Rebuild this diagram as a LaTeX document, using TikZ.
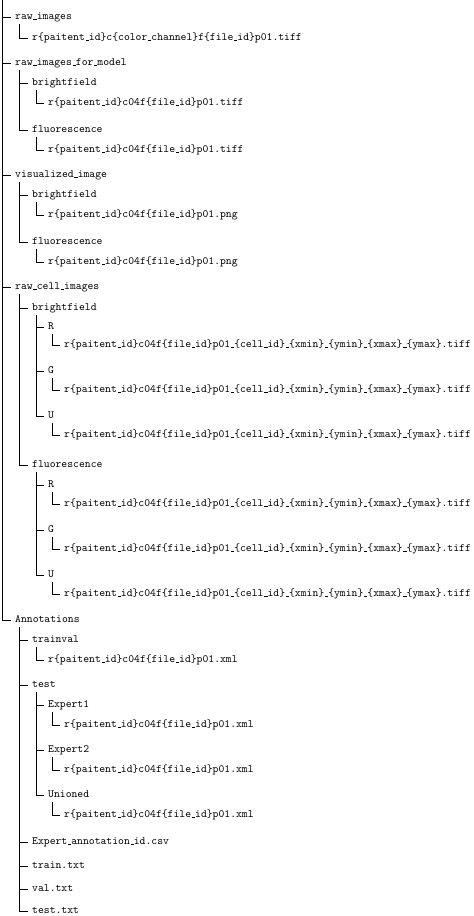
\documentclass[tikz,border=0pt]{standalone}
\usepackage{tikz}
\usetikzlibrary{positioning}
\newcommand{\us}{\leavevmode\kern.06em\vbox{\hrule width .3em}}
\newcommand{\cellname}{r\{paitent\us id\}c04f\{file\us id\}p01\us\{cell\us id\}\us\{xmin\}\us\{ymin\}\us\{xmax\}\us\{ymax\}.tiff}

\begin{document}
\begin{tikzpicture}[
  x=0.897pt, y=-0.897pt,
  dir/.style={anchor=west, inner sep=0pt, font=\ttfamily,
              text height=6.5pt, text depth=2pt},
  branch/.style={draw=black, line width=0.7pt}
]
\useasboundingbox (0,0) rectangle (474,916);

%% Text columns sit at x = 15, 32, 48, 64; every branch line is 4 units
%% right of its parent's first letter.
\coordinate (top) at (2,0);

%% ---- raw images -----------------------------------------------------------
\node[dir] (rawimg)  at (15,17)  {raw\us images};
\node[dir] (rawimgf) at (32,38)  {r\{paitent\us id\}c\{color\us channel\}f\{file\us id\}p01.tiff};

\node[dir] (rimodel) at (15,63)  {raw\us images\us for\us model};
\node[dir] (rmbf)    at (32,83)  {brightfield};
\node[dir] (rmbff)   at (48,103) {r\{paitent\us id\}c04f\{file\us id\}p01.tiff};
\node[dir] (rmfl)    at (32,130) {fluorescence};
\node[dir] (rmflf)   at (48,150) {r\{paitent\us id\}c04f\{file\us id\}p01.tiff};

\node[dir] (vis)     at (15,175) {visualized\us image};
\node[dir] (visbf)   at (32,195) {brightfield};
\node[dir] (visbff)  at (48,215) {r\{paitent\us id\}c04f\{file\us id\}p01.png};
\node[dir] (visfl)   at (32,242) {fluorescence};
\node[dir] (visflf)  at (48,262) {r\{paitent\us id\}c04f\{file\us id\}p01.png};

%% ---- cell crops -----------------------------------------------------------
\node[dir] (cell)    at (15,287) {raw\us cell\us images};
\node[dir] (cbf)     at (32,308) {brightfield};
\node[dir] (cbfr)    at (48,327) {R};
\node[dir] (cbfrf)   at (64,345) {\cellname};
\node[dir] (cbfg)    at (48,371) {G};
\node[dir] (cbfgf)   at (64,390) {\cellname};
\node[dir] (cbfu)    at (48,416) {U};
\node[dir] (cbfuf)   at (64,435) {\cellname};
\node[dir] (cfl)     at (32,465) {fluorescence};
\node[dir] (cflr)    at (48,485) {R};
\node[dir] (cflrf)   at (64,504) {\cellname};
\node[dir] (cflg)    at (48,530) {G};
\node[dir] (cflgf)   at (64,549) {\cellname};
\node[dir] (cflu)    at (48,575) {U};
\node[dir] (cfluf)   at (64,594) {\cellname};

%% ---- annotations ----------------------------------------------------------
\node[dir] (ann)     at (15,620) {Annotations};
\node[dir] (tv)      at (32,640) {trainval};
\node[dir] (tvf)     at (48,660) {r\{paitent\us id\}c04f\{file\us id\}p01.xml};
\node[dir] (test)    at (32,685) {test};
\node[dir] (ex1)     at (48,705) {Expert1};
\node[dir] (ex1f)    at (64,725) {r\{paitent\us id\}c04f\{file\us id\}p01.xml};
\node[dir] (ex2)     at (48,750) {Expert2};
\node[dir] (ex2f)    at (64,770) {r\{paitent\us id\}c04f\{file\us id\}p01.xml};
\node[dir] (uni)     at (48,795) {Unioned};
\node[dir] (unif)    at (64,815) {r\{paitent\us id\}c04f\{file\us id\}p01.xml};
\node[dir] (csv)     at (32,842) {Expert\us annotation\us id.csv};
\node[dir] (train)   at (32,866) {train.txt};
\node[dir] (val)     at (32,889) {val.txt};
\node[dir] (testtxt) at (32,911) {test.txt};

%% root branches
\foreach \c in {rawimg,rimodel,vis,cell,ann}
  \draw[branch] (top) |- ([xshift=-4pt]\c.west);

%% inner branches
\foreach \p/\c in {rawimg/rawimgf, rimodel/rmbf, rimodel/rmfl, rmbf/rmbff,
    rmfl/rmflf, vis/visbf, vis/visfl, visbf/visbff, visfl/visflf,
    cell/cbf, cell/cfl, cbf/cbfr, cbf/cbfg, cbf/cbfu, cbfr/cbfrf,
    cbfg/cbfgf, cbfu/cbfuf, cfl/cflr, cfl/cflg, cfl/cflu, cflr/cflrf,
    cflg/cflgf, cflu/cfluf, ann/tv, ann/test, ann/csv, ann/train,
    ann/val, ann/testtxt, tv/tvf, test/ex1, test/ex2, test/uni,
    ex1/ex1f, ex2/ex2f, uni/unif}
  \draw[branch] ([xshift=3.6pt,yshift=-2pt]\p.south west)
    |- ([xshift=-3.6pt]\c.west);

\end{tikzpicture}
\end{document}
